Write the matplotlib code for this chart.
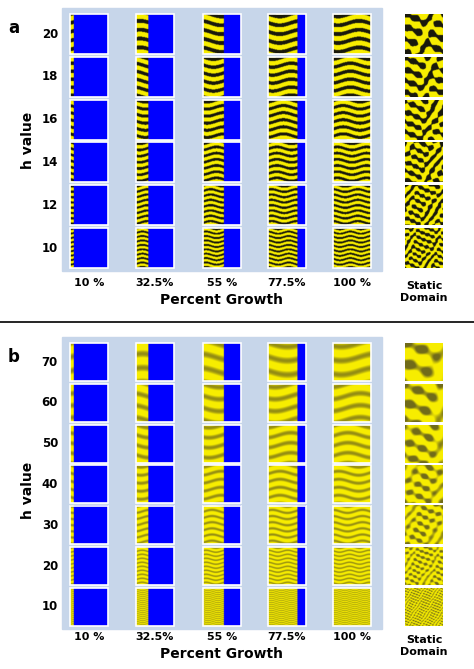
import numpy as np
import matplotlib
matplotlib.use("Agg")
import matplotlib.pyplot as plt
from matplotlib.patches import Rectangle

growth_labels = ["10 %", "32.5%", "55 %", "77.5%", "100 %"]
growth_frac = [0.10, 0.325, 0.55, 0.775, 1.0]
h_a = [20, 18, 16, 14, 12, 10]
h_b = [70, 60, 50, 40, 30, 20, 10]

fig = plt.figure(figsize=(4.74, 6.69), dpi=100)
ax = fig.add_axes([0, 0, 1, 1])
ax.set_xlim(0, 474); ax.set_ylim(669, 0); ax.axis("off")

col_x = [70, 136, 203, 268, 333]
static_x = 405
TW = 38
N = 80
yy, xx = np.mgrid[0:N, 0:N] / N * TW

def stripes(h, period_scale, static, idx):
    lam = h * period_scale
    if static:
        lam = lam * 1.3
        v = (np.cos(2*np.pi*(xx*0.8 + yy*0.6)/lam + 0.8*np.sin(2*np.pi*yy/(4*lam)+idx))
             + np.cos(2*np.pi*(xx*-0.5 + yy*0.87)/lam + 0.8*np.sin(2*np.pi*xx/(4*lam)))
             + np.cos(2*np.pi*(xx*0.3 - yy*0.95)/lam + idx))
    else:
        v = np.cos(2*np.pi*(yy + 0.25*lam*np.sin(2*np.pi*xx/(5*lam)+idx))/lam)
    return v

def tile_img(v, frac, mode):
    yellow = np.array([0.97, 0.93, 0.0])
    if mode == "a":
        dark = np.array([0.1, 0.1, 0.05])
        t = (v > 0.2).astype(float)
    else:
        dark = np.array([0.35, 0.33, 0.12])
        t = np.clip((v + 0.2) / 1.6, 0, 1) * 0.85
    img = yellow[None, None, :] * (1 - t[..., None]) + dark[None, None, :] * t[..., None]
    ncut = int(round(frac * N))
    img[:, ncut:, :] = [0.0, 0.0, 1.0]
    return img

def panel(hvals, top, pitch, th, scale, mode, label, ylab_y, xl_y):
    nrow = len(hvals)
    ax.add_patch(Rectangle((62, top - 6), 320, nrow * pitch + 6, color="#c7d6ea", zorder=0))
    for r, h in enumerate(hvals):
        y0 = top + r * pitch
        for c, f in enumerate(growth_frac):
            v = stripes(h, scale, False, c + r)
            ax.imshow(tile_img(v, f, mode), extent=(col_x[c], col_x[c] + TW, y0 + th, y0),
                      interpolation="bilinear", zorder=2)
            ax.add_patch(Rectangle((col_x[c], y0), TW, th, fill=False, ec="white", lw=1.2, zorder=3))
        v = stripes(h, scale, True, r)
        ax.imshow(tile_img(v, 1.0, mode), extent=(static_x, static_x + TW, y0 + th, y0),
                  interpolation="bilinear", zorder=2)
        ax.text(58, y0 + th / 2, str(h), ha="right", va="center", fontsize=8.5, fontweight="bold")
    for c, lab in enumerate(growth_labels):
        ax.text(col_x[c] + TW / 2, xl_y, lab, ha="center", va="center", fontsize=8, fontweight="bold")
    ax.text(222, xl_y + 17, "Percent Growth", ha="center", va="center", fontsize=10, fontweight="bold")
    ax.text(static_x + TW / 2, xl_y + 9, "Static\nDomain", ha="center", va="center", fontsize=8,
            fontweight="bold", linespacing=1.2)
    ax.text(28, ylab_y, "h value", rotation=90, ha="center", va="center", fontsize=10, fontweight="bold")
    ax.text(14, top + 14, label, ha="center", va="center", fontsize=12, fontweight="bold")

panel(h_a, 14, 42.8, 40, 0.42, "a", "a", 140, 283)
ax.plot([0, 474], [322, 322], color="black", lw=1.2)
panel(h_b, 343, 40.8, 38, 0.2, "b", "b", 490, 637)

fig.savefig("out.png", dpi=100)
